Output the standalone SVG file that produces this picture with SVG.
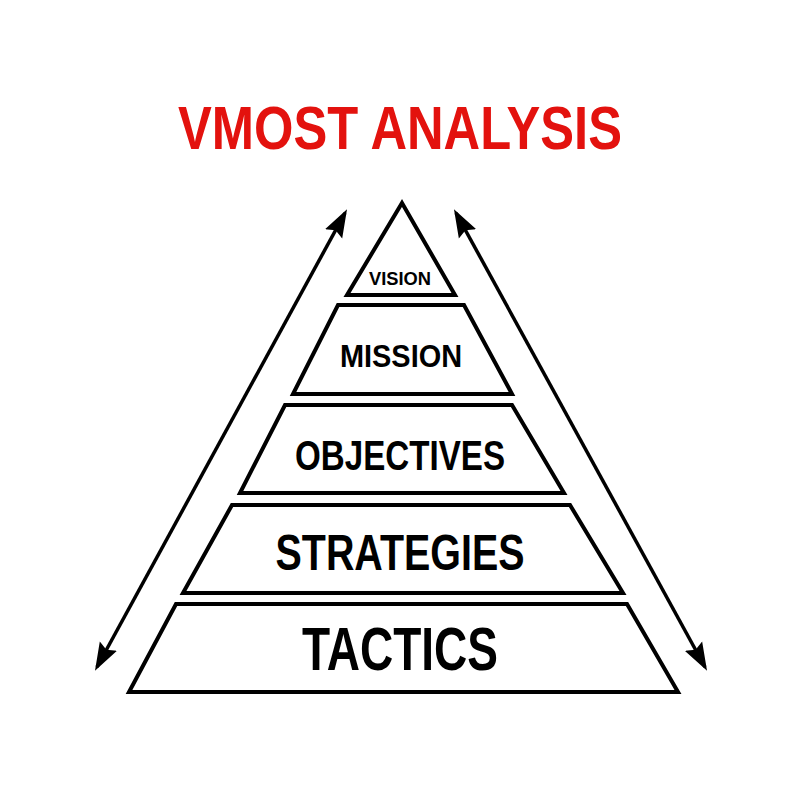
<svg xmlns="http://www.w3.org/2000/svg" width="800" height="800" viewBox="0 0 800 800">
<style>
.lvl{fill:#fff;stroke:#000;stroke-width:4;stroke-linejoin:miter}
.lbl{font-family:"Liberation Sans","DejaVu Sans",sans-serif;font-weight:bold;fill:#000;text-anchor:middle}
.conn{stroke:#000;stroke-width:3.5;fill:none}
</style>
<defs>
<marker id="ah" viewBox="0 0 20 14" refX="17" refY="7" markerWidth="8" markerHeight="6" markerUnits="strokeWidth" orient="auto-start-reverse">
<path d="M0,0 L20,7 L0,14 L3,7 Z" fill="#000"/>
</marker>
</defs>
<rect width="800" height="800" fill="#fff"/>
<text x="400" y="149" font-family="Liberation Sans, DejaVu Sans, sans-serif" font-weight="bold" font-size="62" fill="#e3120e" text-anchor="middle" textLength="444" lengthAdjust="spacingAndGlyphs">VMOST ANALYSIS</text>
<g id="connectors">
<line class="conn" x1="97" y1="667" x2="345" y2="213" marker-start="url(#ah)" marker-end="url(#ah)"/>
<line class="conn" x1="456" y1="213" x2="705" y2="667" marker-start="url(#ah)" marker-end="url(#ah)"/>
</g>
<g id="vision">
<polygon class="lvl" points="402,203 455,295 347,295"/>
<text class="lbl" x="400" y="285" font-size="19" textLength="62" lengthAdjust="spacingAndGlyphs">VISION</text>
</g>
<g id="mission">
<polygon class="lvl" points="338,305 464,305 512,394 293,394"/>
<text class="lbl" x="401" y="367" font-size="32" textLength="122" lengthAdjust="spacingAndGlyphs">MISSION</text>
</g>
<g id="objectives">
<polygon class="lvl" points="285,405 512,405 564,493 240,493"/>
<text class="lbl" x="400" y="470" font-size="43" textLength="210" lengthAdjust="spacingAndGlyphs">OBJECTIVES</text>
</g>
<g id="strategies">
<polygon class="lvl" points="232,505 570,505 623,593 183,593"/>
<text class="lbl" x="400" y="570" font-size="50" textLength="249" lengthAdjust="spacingAndGlyphs">STRATEGIES</text>
</g>
<g id="tactics">
<polygon class="lvl" points="176,604 627,604 678,692 129,692"/>
<text class="lbl" x="400" y="670" font-size="62" textLength="196" lengthAdjust="spacingAndGlyphs">TACTICS</text>
</g>
</svg>
